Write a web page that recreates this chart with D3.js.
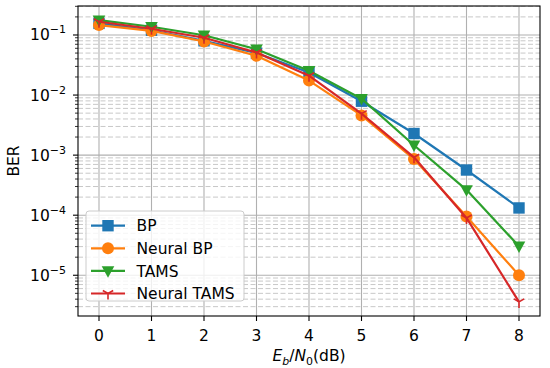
<!DOCTYPE html>
<html>
<head>
<meta charset="utf-8">
<script src="https://cdn.jsdelivr.net/npm/d3@7"></script>
<style>
  body { margin: 0; background: #fff; }
  svg text { font-family: "DejaVu Sans", sans-serif; }
</style>
</head>
<body>
<div id="chart"></div>
<script>
// Eb/N0 points (dB)
let snr = [0, 1, 2, 3, 4, 5, 6, 7, 8];
let berBP = [0.156, 0.120, 0.080, 0.050, 0.0238, 0.0079, 0.00229, 0.000565, 0.000132];
let berNeuralBP = [0.146, 0.117, 0.078, 0.045, 0.0174, 0.00458, 0.00086, 0.000095, 0.0000100];
let berTAMS = [0.177, 0.137, 0.099, 0.058, 0.0254, 0.0087, 0.00146, 0.000264, 0.0000305];
let berNeuralTAMS = [0.166, 0.127, 0.090, 0.051, 0.021, 0.0049, 0.00092, 0.000090, 0.0000036];
let seriesNames = ["BP", "Neural BP", "TAMS", "Neural TAMS"];
let xTicks = [0, 1, 2, 3, 4, 5, 6, 7, 8];
let yExps = [-1, -2, -3, -4, -5];

let width = 550, height = 368;
let margin = {left: 78, right: 10, top: 6, bottom: 52};
let fs = 15.5, fsSmall = 11;

let series = [
  {name: seriesNames[0], values: berBP, color: "#1f77b4", marker: "square"},
  {name: seriesNames[1], values: berNeuralBP, color: "#ff7f0e", marker: "circle"},
  {name: seriesNames[2], values: berTAMS, color: "#2ca02c", marker: "tridown"},
  {name: seriesNames[3], values: berNeuralTAMS, color: "#d62728", marker: "tri"}
];

let svg = d3.select("#chart").append("svg")
  .attr("width", width)
  .attr("height", height);

// matplotlib-style 5% margins
let xPad = (d3.max(snr) - d3.min(snr)) * 0.05;
let x = d3.scaleLinear()
  .domain([d3.min(snr) - xPad, d3.max(snr) + xPad])
  .range([margin.left, width - margin.right]);

let allVals = [].concat(berBP, berNeuralBP, berTAMS, berNeuralTAMS);
let lo = Math.log10(d3.min(allVals)), hi = Math.log10(d3.max(allVals));
let lPad = (hi - lo) * 0.05;
let y = d3.scaleLog()
  .domain([Math.pow(10, lo - lPad), Math.pow(10, hi + lPad)])
  .range([height - margin.bottom, margin.top]);

let plot = svg.append("g");
let x0 = margin.left, x1 = width - margin.right;
let y0 = height - margin.bottom, y1 = margin.top;

// minor values inside domain
let minors = [];
for (let e = -7; e <= 0; e++) {
  for (let m = 2; m <= 9; m++) {
    let v = m * Math.pow(10, e);
    if (v >= y.domain()[0] && v <= y.domain()[1]) minors.push(v);
  }
}

// grid
plot.selectAll(".minorGrid")
  .data(minors)
  .enter()
  .append("line")
  .attr("x1", x0).attr("x2", x1)
  .attr("y1", d => y(d)).attr("y2", d => y(d))
  .attr("stroke", "#c8c8c8")
  .attr("stroke-width", 1)
  .attr("stroke-dasharray", "5,2.5");

plot.selectAll(".majorGridY")
  .data(yExps)
  .enter()
  .append("line")
  .attr("x1", x0).attr("x2", x1)
  .attr("y1", d => y(Math.pow(10, d))).attr("y2", d => y(Math.pow(10, d)))
  .attr("stroke", "#b0b0b0")
  .attr("stroke-width", 1.1);

plot.selectAll(".majorGridX")
  .data(xTicks)
  .enter()
  .append("line")
  .attr("x1", d => x(d)).attr("x2", d => x(d))
  .attr("y1", y0).attr("y2", y1)
  .attr("stroke", "#b0b0b0")
  .attr("stroke-width", 1.1);

// lines
let line = d3.line()
  .x((d, i) => x(snr[i]))
  .y(d => y(d));

function drawMarker(g, type, color) {
  if (type === "square") {
    g.append("rect")
      .attr("x", -5.7).attr("y", -5.7)
      .attr("width", 11.4).attr("height", 11.4)
      .attr("fill", color);
  } else if (type === "circle") {
    g.append("circle")
      .attr("r", 6)
      .attr("fill", color);
  } else if (type === "tridown") {
    g.append("path")
      .attr("d", "M-6.3,-4.7L6.3,-4.7L0,6.8Z")
      .attr("fill", color);
  } else {
    g.append("path")
      .attr("d", "M0,0L0,6M0,0L-5.2,-3M0,0L5.2,-3")
      .attr("stroke", color)
      .attr("stroke-width", 1.6)
      .attr("fill", "none");
  }
}

series.forEach(s => {
  plot.append("path")
    .datum(s.values)
    .attr("d", line)
    .attr("fill", "none")
    .attr("stroke", s.color)
    .attr("stroke-width", 2.2)
    .attr("stroke-linejoin", "round");

  plot.selectAll(".m-" + s.marker)
    .data(s.values)
    .enter()
    .append("g")
    .attr("transform", (d, i) => "translate(" + x(snr[i]) + "," + y(d) + ")")
    .each(function() { drawMarker(d3.select(this), s.marker, s.color); });
});

// spines
svg.append("rect")
  .attr("x", x0).attr("y", y1)
  .attr("width", x1 - x0).attr("height", y0 - y1)
  .attr("fill", "none")
  .attr("stroke", "#000")
  .attr("stroke-width", 1.1);

// x ticks
let xt = svg.selectAll(".xtick")
  .data(xTicks)
  .enter()
  .append("g")
  .attr("transform", d => "translate(" + x(d) + "," + y0 + ")");
xt.append("line").attr("y2", 5).attr("stroke", "#000").attr("stroke-width", 1.1);
xt.append("text")
  .attr("y", 24.5)
  .attr("text-anchor", "middle")
  .attr("font-size", fs)
  .text(d => d);

// y ticks
svg.selectAll(".yminor")
  .data(minors)
  .enter()
  .append("line")
  .attr("x1", x0 - 3).attr("x2", x0)
  .attr("y1", d => y(d)).attr("y2", d => y(d))
  .attr("stroke", "#000").attr("stroke-width", 0.8);

let yt = svg.selectAll(".ytick")
  .data(yExps)
  .enter()
  .append("g")
  .attr("transform", d => "translate(" + x0 + "," + y(Math.pow(10, d)) + ")");
yt.append("line").attr("x1", -5).attr("stroke", "#000").attr("stroke-width", 1.1);
let ytl = yt.append("text")
  .attr("x", -12)
  .attr("y", 5.5)
  .attr("text-anchor", "end")
  .attr("font-size", fs);
ytl.append("tspan").text("10");
ytl.append("tspan")
  .attr("dy", -7)
  .attr("font-size", fsSmall)
  .text(d => "\u2212" + (-d));

// axis labels
svg.append("text")
  .attr("transform", "translate(19," + ((y0 + y1) / 2) + ") rotate(-90)")
  .attr("text-anchor", "middle")
  .attr("font-size", fs)
  .text("BER");

let xl = svg.append("text")
  .attr("x", (x0 + x1) / 2)
  .attr("y", 361)
  .attr("text-anchor", "middle")
  .attr("font-size", fs);
xl.append("tspan").attr("font-style", "italic").text("E");
xl.append("tspan").attr("font-style", "italic").attr("font-size", fsSmall).attr("dy", 3.5).text("b");
xl.append("tspan").attr("dy", -3.5).text("/");
xl.append("tspan").attr("font-style", "italic").text("N");
xl.append("tspan").attr("font-size", fsSmall).attr("dy", 3.5).text("0");
xl.append("tspan").attr("dy", -3.5).text("(dB)");

// legend
let leg = svg.append("g").attr("transform", "translate(86,211)");
leg.append("rect")
  .attr("width", 158).attr("height", 90)
  .attr("rx", 3)
  .attr("fill", "#fff").attr("fill-opacity", 0.8)
  .attr("stroke", "#cccccc").attr("stroke-width", 1);

let entry = leg.selectAll(".entry")
  .data(series)
  .enter()
  .append("g")
  .attr("transform", (d, i) => "translate(0," + (14.7 + i * 22.6) + ")");
entry.append("line")
  .attr("x1", 5).attr("x2", 39)
  .attr("stroke", d => d.color)
  .attr("stroke-width", 2.2);
entry.append("g")
  .attr("transform", "translate(22,0)")
  .each(function(d) { drawMarker(d3.select(this), d.marker, d.color); });
entry.append("text")
  .attr("x", 50.5)
  .attr("y", 5.6)
  .attr("font-size", fs)
  .text(d => d.name);
</script>
</body>
</html>
